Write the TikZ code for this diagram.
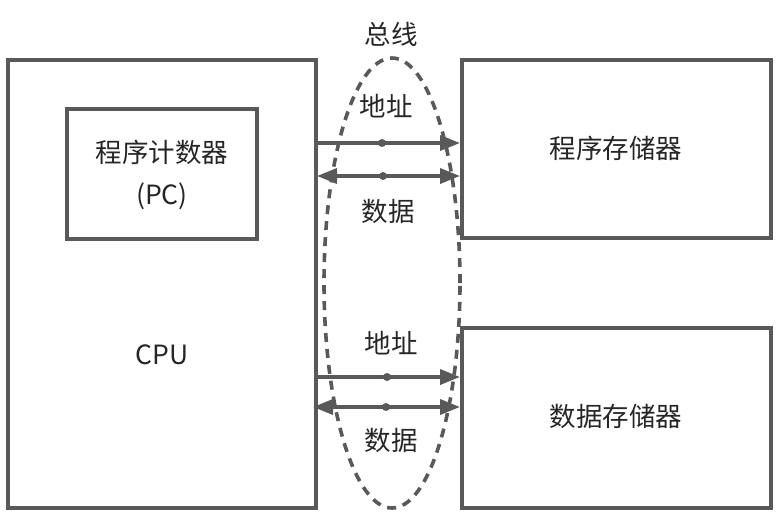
\documentclass[tikz,border=0pt]{standalone}
\usepackage{fontspec}
\setmainfont{Noto Sans CJK SC}
\usetikzlibrary{arrows.meta,shapes.geometric}
\definecolor{ln}{HTML}{595959}
\begin{document}
\begin{tikzpicture}[x=1pt,y=-1pt,
  box/.style={draw=ln,line width=3.6pt,inner sep=0pt},
  lbl/.style={font=\fontsize{26.5}{30}\selectfont,text=black!85,inner sep=0pt},
  bus/.style={draw=ln,line width=3.6pt},
  tip/.style={-{Triangle[length=20pt,width=15pt]}},
  dtip/.style={{Triangle[length=20pt,width=15pt]}-{Triangle[length=20pt,width=15pt]}},
  dotn/.style={circle,fill=ln,inner sep=0pt,minimum size=8pt}]
\useasboundingbox (0,0) rectangle (781,512);
% boxes
\draw[box] (8,60) rectangle (316,508);
\coordinate (cpuR1) at (316,143);
\coordinate (cpuR2) at (317,176);
\coordinate (cpuR3) at (316,377);
\coordinate (cpuR4) at (313,407);
\draw[box] (67,109) rectangle (257,239);
\draw[box] (462,60) rectangle (771,238);
\draw[box] (462,328) rectangle (771,508);
\coordinate (pmL1) at (460,143);
\coordinate (pmL2) at (460,176);
\coordinate (dmL1) at (460,377);
\coordinate (dmL2) at (460,407);
% ellipse bus
\node[ellipse,draw=ln,line width=3.6pt,dash pattern=on 9pt off 7pt,minimum width=136pt,minimum height=450pt,inner sep=0pt] (bus) at (392,283) {};
% labels
\node[lbl] (pc1) at (162,152) {程序计数器};
\node[lbl] (pc2) at (162,196) {(PC)};
\node[lbl] (cpu) at (162,355) {CPU};
\node[lbl] (pm) at (616,148) {程序存储器};
\node[lbl] (dm) at (616,416) {数据存储器};
\node[lbl] (zx) at (391,34) {总线};
\node[lbl] (a1) at (386,106) {地址};
\node[lbl] (d1) at (388,211) {数据};
\node[lbl] (a2) at (391,343) {地址};
\node[lbl] (d2) at (391,440) {数据};
% arrows
\draw[bus,tip] (cpuR1) -- (pmL1);
\draw[bus,dtip] (cpuR2) -- (pmL2);
\draw[bus,tip] (cpuR3) -- (dmL1);
\draw[bus,dtip] (cpuR4) -- (dmL2);
\node[dotn] (p1) at (382,143) {};
\node[dotn] (p2) at (383,176) {};
\node[dotn] (p3) at (387,377) {};
\node[dotn] (p4) at (386,407) {};
\end{tikzpicture}
\end{document}
